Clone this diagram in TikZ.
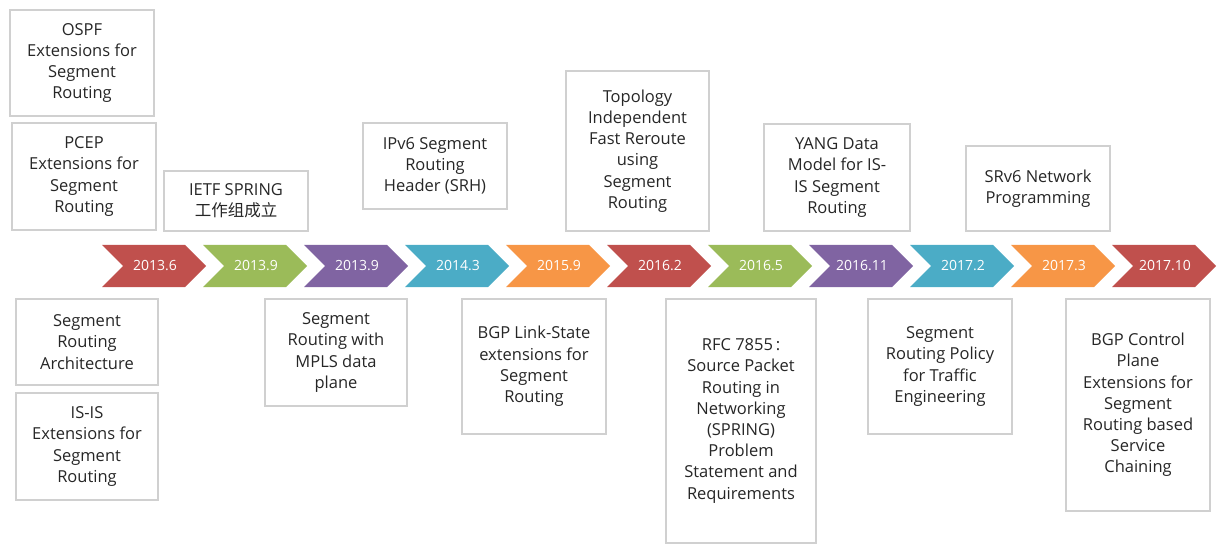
\documentclass[tikz,border=0pt]{standalone}
\usepackage{fontspec}
\setmainfont{Open Sans}
\newfontfamily\cjk{Noto Sans CJK SC}
\definecolor{cr}{HTML}{C0504D}
\definecolor{cg}{HTML}{9BBB59}
\definecolor{cp}{HTML}{8064A2}
\definecolor{ct}{HTML}{4BACC6}
\definecolor{co}{HTML}{F79646}
\definecolor{bd}{HTML}{D0D0D0}
\begin{document}
\begin{tikzpicture}[x=1pt,y=-1pt,
  box/.style={draw=bd,line width=2pt,align=center,font=\fontsize{16.5}{21.2}\selectfont,text=black!85,inner sep=0pt},
  lab/.style={text=white,font=\fontsize{14}{16}\selectfont}]
\useasboundingbox (0,0) rectangle (1220,545);
\newcommand{\bx}[6]{\node[box,minimum width={#4-#2},minimum height={#5-#3}] (#1) at ({(#2+#4)/2},{(#3+#5)/2}) {#6};}
\newcommand{\chev}[4]{%
  \fill[#2] (#3,245) -- (#3+83,245) -- (#3+104,266) -- (#3+83,287) -- (#3,287) -- (#3+21,266) -- cycle;
  \node[lab] (#1) at (#3+53,266) {#4};}
\chev{c1}{cr}{102}{2013.6}
\chev{c2}{cg}{203}{2013.9}
\chev{c3}{cp}{304}{2013.9}
\chev{c4}{ct}{405}{2014.3}
\chev{c5}{co}{506}{2015.9}
\chev{c6}{cr}{607}{2016.2}
\chev{c7}{cg}{708}{2016.5}
\chev{c8}{cp}{809}{2016.11}
\chev{c9}{ct}{910}{2017.2}
\chev{c10}{co}{1011}{2017.3}
\chev{c11}{cr}{1112}{2017.10}
\bx{b1}{10}{10}{154}{116}{OSPF\\Extensions for\\Segment\\Routing}
\bx{b2}{12}{123}{156}{230}{PCEP\\Extensions for\\Segment\\Routing}
\bx{b3}{164}{171}{308}{231}{IETF SPRING\\{\cjk 工作组成立}}
\bx{b4}{363}{123}{507}{209}{IPv6 Segment\\Routing\\Header (SRH)}
\bx{b5}{566}{71}{709}{231}{Topology\\Independent\\Fast Reroute\\using\\Segment\\Routing}
\bx{b6}{764}{124}{910}{231}{YANG Data\\Model for IS-\\IS Segment\\Routing}
\bx{b7}{966}{146}{1110}{231}{SRv6 Network\\Programming}
\bx{b8}{16}{299}{158}{385}{Segment\\Routing\\Architecture}
\bx{b9}{16}{393}{158}{500}{IS-IS\\Extensions for\\Segment\\Routing}
\bx{b10}{265}{299}{407}{406}{Segment\\Routing with\\MPLS data\\plane}
\bx{b11}{462}{299}{606}{434}{BGP Link-State\\extensions for\\Segment\\Routing}
\bx{b12}{666}{299}{816}{543}{RFC 7855\,:\\Source Packet\\Routing in\\Networking\\(SPRING)\\Problem\\Statement and\\Requirements}
\bx{b13}{868}{299}{1012}{434}{Segment\\Routing Policy\\for Traffic\\Engineering}
\bx{b14}{1066}{299}{1210}{511}{BGP Control\\Plane\\Extensions for\\Segment\\Routing based\\Service\\Chaining}
\end{tikzpicture}
\end{document}
